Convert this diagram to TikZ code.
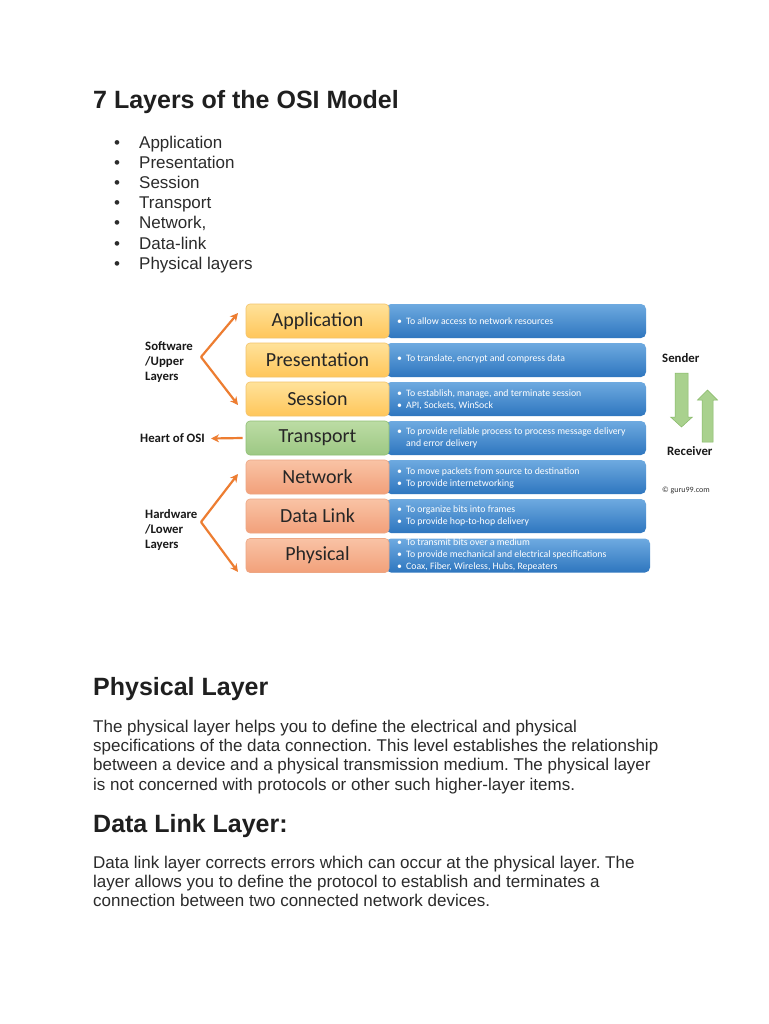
\documentclass[tikz,border=0pt]{standalone}
\usepackage{fontspec}
\setmainfont{Liberation Sans}
\newfontfamily\calf{Carlito}
\usetikzlibrary{arrows.meta}
\definecolor{ytop}{HTML}{FFE29A}
\definecolor{ybot}{HTML}{FFC65A}
\definecolor{yedge}{HTML}{F3C36A}
\definecolor{gtop}{HTML}{BCDCA4}
\definecolor{gbot}{HTML}{9DC884}
\definecolor{gedge}{HTML}{8FBF74}
\definecolor{stop}{HTML}{F9C3A5}
\definecolor{sbot}{HTML}{F2A07A}
\definecolor{sedge}{HTML}{EDA683}
\definecolor{btop}{HTML}{6EAAE0}
\definecolor{bbot}{HTML}{2E76BF}
\definecolor{arr}{HTML}{ED7D31}
\definecolor{garr}{HTML}{A9D18E}
\definecolor{garredge}{HTML}{86B867}
\definecolor{bodytext}{HTML}{2B2B2B}
\newcommand\bitem{\makebox[9pt][l]{•}}
\newcommand\bcont{\hspace*{9pt}}
\frenchspacing
\begin{document}
\begin{tikzpicture}[x=1pt,y=-1pt,
  layerbox/.style={rounded corners=4pt, minimum width=143pt, minimum height=34pt, inner sep=0pt, line width=0.6pt, font=\calf\fontsize{20}{20}\selectfont, text=black!85},
  ylw/.style={layerbox, top color=ytop, bottom color=ybot, draw=yedge},
  grn/.style={layerbox, top color=gtop, bottom color=gbot, draw=gedge},
  sal/.style={layerbox, top color=stop, bottom color=sbot, draw=sedge},
  bluebox/.style={rounded corners=5pt, minimum height=34pt, inner sep=0pt, top color=btop, bottom color=bbot, draw=none},
  bluetext/.style={anchor=west, inner sep=0pt, align=left, text=white, font=\calf\fontsize{9.8}{12}\selectfont},
  sidelabel/.style={anchor=west, inner sep=0pt, align=left, text=black!90, font=\calf\bfseries\fontsize{12.8}{15}\selectfont},
  orarrow/.style={draw=arr, line width=2.2pt, -{Stealth[length=8pt,width=8pt]}},
  bodyline/.style={anchor=base west, inner sep=0pt, text=bodytext, font=\fontsize{17}{19}\selectfont},
  heading/.style={anchor=base west, inner sep=0pt, text=black!88, font=\bfseries\fontsize{25}{28}\selectfont},
  listitem/.style={anchor=base west, inner sep=0pt, text=bodytext, font=\fontsize{17}{20}\selectfont}
]
\useasboundingbox[fill=white] (0,0) rectangle (768,1024);

% Title and list
\node[heading] (title) at (93,109) {7 Layers of the OSI Model};
\foreach \t [count=\i] in {Application,Presentation,Session,Transport,{Network,},Data-link,Physical layers}{
  \node[listitem] (bul\i) at (114,{129+20*\i}) {•};
  \node[listitem] (li\i) at (139,{129+20*\i}) {\t};
}

% Blue description boxes
\node[bluebox, minimum width=260pt] (b1) at (516,321) {};
\node[bluebox, minimum width=260pt] (b2) at (516,360) {};
\node[bluebox, minimum width=260pt] (b3) at (516,399) {};
\node[bluebox, minimum width=260pt] (b4) at (516,438) {};
\node[bluebox, minimum width=260pt] (b5) at (516,477) {};
\node[bluebox, minimum width=260pt] (b6) at (516,516) {};
\node[bluebox, minimum width=264pt] (b7) at (518,555.5) {};

\node[bluetext] (t1) at (397,321) {\bitem To allow access to network resources};
\node[bluetext] (t2) at (397,359) {\bitem To translate, encrypt and compress data};
\node[bluetext] (t3) at (397,400) {\bitem To establish, manage, and terminate session\\\bitem API, Sockets, WinSock};
\node[bluetext] (t4) at (397,438) {\bitem To provide reliable process to process message delivery\\\bcont and error delivery};
\node[bluetext] (t5) at (397,477.5) {\bitem To move packets from source to destination\\\bitem To provide internetworking};
\node[bluetext] (t6) at (397,516) {\bitem To organize bits into frames\\\bitem To provide hop-to-hop delivery};
\node[bluetext] (t7) at (397,555) {\bitem To transmit bits over a medium\\\bitem To provide mechanical and electrical specifications\\\bitem Coax, Fiber, Wireless, Hubs, Repeaters};

% Layer boxes
\node[ylw] (app) at (317.5,321) {Application};
\node[ylw] (pre) at (317.5,360) {Presentation};
\node[ylw] (ses) at (317.5,399) {Session};
\node[grn] (tra) at (317.5,438) {Transport};
\node[sal] (net) at (317.5,477) {Network};
\node[sal] (dl)  at (317.5,516) {Data Link};
\node[sal] (phy) at (317.5,555.5) {Physical};

% Left labels and arrows
\node[sidelabel] (sw) at (145,362) {Software\\/Upper\\Layers};
\node[sidelabel] (hw) at (145,530) {Hardware\\/Lower\\Layers};
\node[sidelabel] (heart) at (140,438.5) {Heart of OSI};
\coordinate (swv) at (201,357);
\coordinate (hwv) at (201,522);
\draw[orarrow] (swv) -- (238,313);
\draw[orarrow] (swv) -- (238,405);
\draw[orarrow] (hwv) -- (238,474);
\draw[orarrow] (hwv) -- (238,572);
\draw[orarrow] ([xshift=-3pt]tra.west) -- ([xshift=6pt]heart.east);

% Right side
\node[sidelabel] (snd) at (662,358) {Sender};
\node[sidelabel] (rcv) at (667,451) {Receiver};
\node[anchor=west, inner sep=0pt, text=black!80, font=\calf\fontsize{8}{9}\selectfont] (copy) at (662,490) {© guru99.com};
\draw[fill=garr, draw=garredge, line width=0.5pt] (675,373) -- (688,373) -- (688,417) -- (692.5,417) -- (681.5,427) -- (670.5,417) -- (675,417) -- cycle;
\draw[fill=garr, draw=garredge, line width=0.5pt] (702,442) -- (713,442) -- (713,400) -- (717.5,400) -- (707.5,390) -- (697.5,400) -- (702,400) -- cycle;

% Physical Layer section
\node[heading] (h2) at (93,695) {Physical Layer};
\node[bodyline] (p1) at (93,732) {The physical layer helps you to define the electrical and physical};
\node[bodyline] (p2) at (93,751.3) {specifications of the data connection. This level establishes the relationship};
\node[bodyline] (p3) at (93,770.6) {between a device and a physical transmission medium. The physical layer};
\node[bodyline] (p4) at (93,790) {is not concerned with protocols or other such higher-layer items.};

% Data Link Layer section
\node[heading] (h3) at (93,832) {Data Link Layer:};
\node[bodyline] (q1) at (93,868) {Data link layer corrects errors which can occur at the physical layer. The};
\node[bodyline] (q2) at (93,887.3) {layer allows you to define the protocol to establish and terminates a};
\node[bodyline] (q3) at (93,906.6) {connection between two connected network devices.};
\end{tikzpicture}
\end{document}
